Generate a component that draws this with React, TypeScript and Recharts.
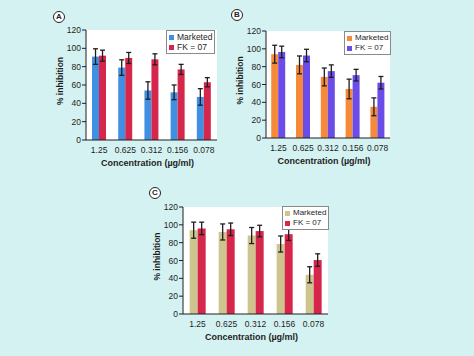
import React from 'react';
import { BarChart, Bar, XAxis, YAxis, CartesianGrid, ErrorBar, Legend, Label } from 'recharts';

const categories = ['1.25', '0.625', '0.312', '0.156', '0.078'];
const yTicks = [0, 20, 40, 60, 80, 100, 120];
const boundaryTicks = [0, 1, 2, 3, 4, 5];

// panel A
const aMarketed = [91, 79, 54, 52, 47];
const aMarketedErr = [8.5, 8.5, 9.5, 8, 9];
const aFk = [92, 89.5, 88, 77, 63];
const aFkErr = [6, 6, 6, 5.5, 5];

// panel B
const bMarketed = [94, 82, 68.5, 55, 35];
const bMarketedErr = [10, 10, 10, 11, 10];
const bFk = [96.5, 92.5, 75, 70.5, 62];
const bFkErr = [6.5, 7, 7, 6.5, 7];

// panel C
const cMarketed = [94, 92, 88, 78.5, 44];
const cMarketedErr = [9, 9, 9, 9, 9];
const cFk = [96, 95, 93, 89.5, 60.5];
const cFkErr = [7, 7, 6.5, 7, 7];

const FONT = '"Liberation Sans", Arial, sans-serif';
const INK = '#1e1e1e';

interface PanelProps {
  letter: string;
  left: number;
  top: number;
  width: number;
  height: number;
  margin: { top: number; right: number; bottom: number; left: number };
  marketed: number[];
  marketedErr: number[];
  fk: number[];
  fkErr: number[];
  colors: [string, string];
  legendPos: { left: number; top: number };
  legendFont: number;
  letterPos: { left: number; top: number };
  gap: string;
}

const YLabel = (props: any) => {
  const { x, y, width, height } = props.viewBox;
  const cx = x + width - 26;
  const cy = y + height / 2 - 4;
  return (
    <text
      x={cx}
      y={cy}
      transform={`rotate(-90 ${cx} ${cy})`}
      textAnchor="middle"
      dominantBaseline="central"
      fontFamily={FONT}
      fontWeight="bold"
      fontSize={8.5}
      fill={INK}
    >
      % inhibition
    </text>
  );
};

const XLabel = (props: any) => {
  const { x, y, width } = props.viewBox;
  return (
    <text
      x={x + width / 2 - 4}
      y={y + 23}
      textAnchor="middle"
      dominantBaseline="central"
      fontFamily={FONT}
      fontWeight="bold"
      fontSize={9}
      fill={INK}
    >
      Concentration (µg/ml)
    </text>
  );
};

function Panel(p: PanelProps) {
  const data = categories.map((c, i) => ({
    conc: c,
    pos: i + 0.5,
    marketed: p.marketed[i],
    marketedErr: p.marketedErr[i],
    fk: p.fk[i],
    fkErr: p.fkErr[i],
  }));

  const legendContent = () => (
    <div
      style={{
        border: '1px solid #8a8a8a',
        background: '#fff',
        padding: '1px 2px',
        fontFamily: FONT,
        fontSize: p.legendFont,
        lineHeight: '10px',
        color: INK,
      }}
    >
      {[
        { name: 'Marketed', color: p.colors[0] },
        { name: 'FK = 07', color: p.colors[1] },
      ].map((item) => (
        <div key={item.name} style={{ display: 'flex', alignItems: 'center', whiteSpace: 'nowrap' }}>
          <span style={{ width: 5, height: 5, background: item.color, marginRight: 3, display: 'inline-block' }} />
          {item.name}
        </div>
      ))}
    </div>
  );

  return (
    <div style={{ position: 'absolute', left: p.left, top: p.top, width: p.width, height: p.height }}>
      <BarChart
        width={p.width}
        height={p.height}
        data={data}
        margin={p.margin}
        barCategoryGap={p.gap}
        barGap={0}
      >
        <CartesianGrid horizontal={false} vertical={false} fill="#ffffff" />
        <XAxis
          xAxisId="t"
          dataKey="pos"
          type="number"
          domain={[0, 5]}
          ticks={boundaryTicks}
          height={0}
          axisLine={false}
          tickSize={3}
          tickLine={{ stroke: INK }}
          tickFormatter={() => ''}
        />
        <XAxis
          dataKey="conc"
          height={28}
          axisLine={{ stroke: INK }}
          tickLine={false}
          tickMargin={1}
          tick={{ fontSize: 8.5, fill: INK, fontFamily: FONT }}
          interval={0}
        >
          <Label content={XLabel} />
        </XAxis>
        <YAxis
          width={36}
          domain={[0, 120]}
          ticks={yTicks}
          axisLine={{ stroke: INK }}
          tickLine={{ stroke: INK }}
          tickSize={4}
          tickMargin={1}
          tick={{ fontSize: 8.5, fill: INK, fontFamily: FONT }}
        >
          <Label content={YLabel} />
        </YAxis>
        <Legend
          layout="vertical"
          align="center"
          verticalAlign="middle"
          content={legendContent}
          wrapperStyle={{ left: p.legendPos.left, top: p.legendPos.top, width: 'auto' }}
        />
        <Bar dataKey="marketed" fill={p.colors[0]} isAnimationActive={false}>
          <ErrorBar dataKey="marketedErr" width={2.5} stroke={INK} strokeWidth={1.3} direction="y" />
        </Bar>
        <Bar dataKey="fk" fill={p.colors[1]} isAnimationActive={false}>
          <ErrorBar dataKey="fkErr" width={2.5} stroke={INK} strokeWidth={1.3} direction="y" />
        </Bar>
      </BarChart>
      <div
        style={{
          position: 'absolute',
          left: p.letterPos.left,
          top: p.letterPos.top,
          width: 10,
          height: 10,
          borderRadius: '50%',
          border: '1.3px solid #222',
          background: '#fff',
          fontFamily: FONT,
          fontWeight: 'bold',
          fontSize: 8,
          lineHeight: '10px',
          textAlign: 'center',
          color: '#222',
        }}
      >
        {p.letter}
      </div>
    </div>
  );
}

export default function App() {
  return (
    <div
      style={{
        position: 'absolute',
        left: 0,
        top: 0,
        width: 474,
        height: 356,
        background: '#d5f2f2',
        overflow: 'hidden',
      }}
    >
      <Panel
        letter="A"
        left={0}
        top={0}
        width={230}
        height={175}
        margin={{ top: 30, right: 13, bottom: 7, left: 50 }}
        marketed={aMarketed}
        marketedErr={aMarketedErr}
        fk={aFk}
        fkErr={aFkErr}
        colors={['#3f8fe2', '#d6264b']}
        legendPos={{ left: 166, top: 30 }}
        legendFont={8.5}
        letterPos={{ left: 53, top: 11 }}
        gap="23%"
      />
      <Panel
        letter="B"
        left={230}
        top={0}
        width={175}
        height={175}
        margin={{ top: 31, right: 15, bottom: 9, left: 0 }}
        marketed={bMarketed}
        marketedErr={bMarketedErr}
        fk={bFk}
        fkErr={bFkErr}
        colors={['#f6893a', '#6a4ce8']}
        legendPos={{ left: 114, top: 31 }}
        legendFont={8}
        letterPos={{ left: 1, top: 9 }}
        gap="21%"
      />
      <Panel
        letter="C"
        left={130}
        top={180}
        width={210}
        height={175}
        margin={{ top: 27, right: 12, bottom: 13, left: 17 }}
        marketed={cMarketed}
        marketedErr={cMarketedErr}
        fk={cFk}
        fkErr={cFkErr}
        colors={['#cdc48e', '#d6264b']}
        legendPos={{ left: 152, top: 26 }}
        legendFont={8}
        letterPos={{ left: 19, top: 7 }}
        gap="23%"
      />
    </div>
  );
}
